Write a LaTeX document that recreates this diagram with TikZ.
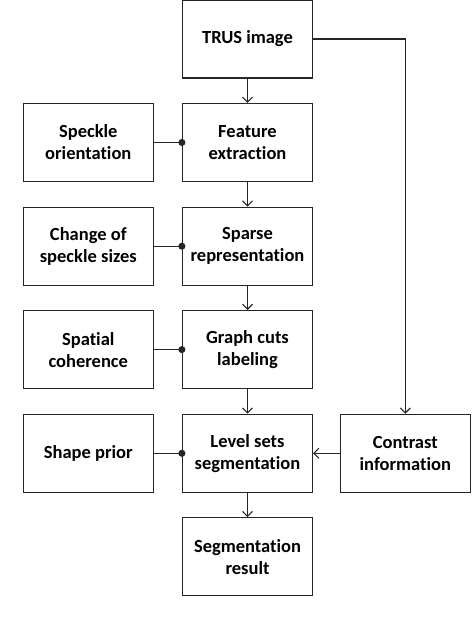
\documentclass[tikz,border=0pt]{standalone}
\usepackage{fontspec}
\setmainfont[Ligatures=NoCommon]{Carlito}
\usetikzlibrary{arrows.meta}

\begin{document}
\begin{tikzpicture}[x=1pt, y=-1pt,
		B/.style={draw=black!85, line width=1.2pt, minimum width=130pt, minimum height=78pt, inner sep=0pt, align=center, font=\bfseries\fontsize{18.5}{22}\selectfont},
		L/.style={line width=1.1pt, draw=black!85, -{Straight Barb[length=5pt, width=10pt]}},
		D/.style={line width=1.1pt, draw=black!85, -{Circle[length=7pt]}, shorten >=-3.5pt}
		]
		\useasboundingbox (0,0) rectangle (474,620);
		
		% middle column
		\node [B] (trus) at (247.5,39) {TRUS image};
		\node [B] (feat) at (247.5,142.5) {Feature\\extraction};
		\node [B] (sparse) at (247.5,246.2) {Sparse\\representation};
		\node [B] (graph) at (247.5,349.6) {Graph cuts\\labeling};
		\node [B] (level) at (247.5,453.3) {Level sets\\segmentation};
		\node [B] (result) at (247.5,556.7) {Segmentation\\result};
		
		% left column
		\node [B] (orient) at (88.3,142.5) {Speckle\\orientation};
		\node [B] (sizes) at (88.3,246.2) {Change of\\speckle sizes};
		\node [B] (coher) at (88.3,349.6) {Spatial\\coherence};
		\node [B] (prior) at (88.3,453.3) {Shape prior};
		
		% right column
		\node [B] (contrast) at (405.3,453.3) {Contrast\\information};
		
		\foreach \a/\b in {trus/feat, feat/sparse, sparse/graph, graph/level, level/result}
			\draw[L] (\a) -- (\b);
		\foreach \a/\b in {orient/feat, sizes/sparse, coher/graph, prior/level}
			\draw[D] (\a) -- (\b);
		
		\draw[L] (trus.east) -| (contrast.north);
		\draw[L] (contrast) -- (level);
		
\end{tikzpicture}
\end{document}
